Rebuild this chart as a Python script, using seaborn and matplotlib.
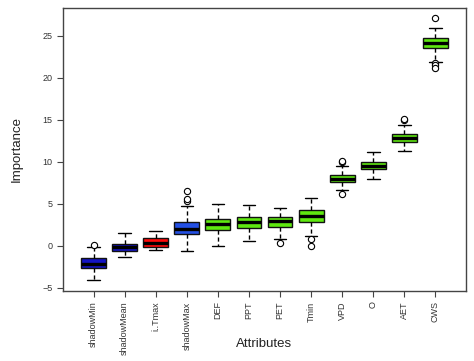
"""Boruta-style attribute importance boxplot."""

import numpy as np
import pandas as pd
import matplotlib
matplotlib.use('Agg')
import matplotlib.pyplot as plt
import seaborn as sns

attributes = ['shadowMin', 'shadowMean', 'i..Tmax', 'shadowMax', 'DEF', 'PPT',
              'PET', 'Tmin', 'VPD', 'O', 'AET', 'CWS']
whisker_lo = [-4.1, -1.4, -0.5, -0.7, 0.0, 0.5, 0.75, 1.2, 6.6, 7.9, 11.3, 21.9]
q1 = [-2.65, -0.63, -0.15, 1.4, 1.87, 2.14, 2.18, 2.86, 7.54, 9.08, 12.35, 23.57]
median = [-2.14, -0.2, 0.27, 2.0, 2.58, 2.82, 2.9, 3.57, 7.98, 9.52, 12.82, 24.17]
q3 = [-1.5, 0.15, 0.87, 2.77, 3.18, 3.45, 3.45, 4.2, 8.42, 9.96, 13.3, 24.73]
whisker_hi = [-0.15, 1.46, 1.7, 4.76, 4.96, 4.88, 4.49, 5.68, 9.48, 11.19, 14.32, 25.87]
outliers = {
    'shadowMin': [0.05],
    'shadowMax': [5.3, 5.5, 6.45],
    'PET': [0.35],
    'Tmin': [0.8, -0.05],
    'VPD': [9.95, 10.1, 6.15],
    'AET': [14.9, 15.1],
    'CWS': [27.05, 21.7, 21.45, 21.2],
}
status = ['shadow', 'shadow', 'rejected', 'shadow2', 'confirmed', 'confirmed',
          'confirmed', 'confirmed', 'confirmed', 'confirmed', 'confirmed', 'confirmed']
colors = {'shadow': '#1414c4', 'shadow2': '#2450e4', 'rejected': '#ff0a0a',
          'confirmed': '#5fe810'}

# build a small sample per attribute whose quartiles equal the summaries
rows = []
for i, name in enumerate(attributes):
    for v in [whisker_lo[i], q1[i], q1[i], median[i], q3[i], q3[i], whisker_hi[i]]:
        rows.append((name, v))
df = pd.DataFrame(rows, columns=['attr', 'imp'])
out_df = pd.DataFrame([(k, v) for k, vals in outliers.items() for v in vals],
                      columns=['attr', 'imp'])

sns.set_style('white')
plt.rcParams['font.family'] = ['Liberation Sans', 'DejaVu Sans']

fig = plt.figure(figsize=(4.74, 3.61), dpi=100)
ax = fig.add_axes([0.133, 0.194, 0.85, 0.784])

palette = [colors[s] for s in status]
sns.boxplot(data=df, x='attr', y='imp', order=attributes, hue='attr',
            hue_order=attributes, palette=palette, legend=False, saturation=1,
            whis=(0, 100), width=0.8, linewidth=1.0, ax=ax,
            boxprops=dict(edgecolor='#111111', linewidth=1.0),
            medianprops=dict(color='black', linewidth=2.4),
            whiskerprops=dict(color='black', linestyle=(0, (3, 2)), linewidth=1.0),
            capprops=dict(color='black', linewidth=1.0),
            capwidths=0.4, showfliers=False)

sns.stripplot(data=out_df, x='attr', y='imp', order=attributes, jitter=False,
              color='white', edgecolor='black', linewidth=0.8, size=4.5, ax=ax)

ax.set_xlim(-0.98, 11.98)
ax.set_ylim(-5.4, 28.3)
ax.set_yticks([-5, 0, 5, 10, 15, 20, 25])
ax.set_xticks(range(len(attributes)))
ax.set_xticklabels(attributes, rotation=90, fontsize=6.5, color='#333333')
ax.tick_params(axis='y', labelsize=6.5, labelcolor='#333333')
ax.tick_params(axis='both', direction='out', length=4, width=0.8,
               color='#444444', bottom=True, left=True)
for s in ax.spines.values():
    s.set_color('#444444')
    s.set_linewidth(1.0)
ax.set_xlabel('Attributes', fontsize=9.5, color='#222222', labelpad=-12)
ax.set_ylabel('Importance', fontsize=9.5, color='#222222', labelpad=14)

plt.savefig('out.png', dpi=100)
